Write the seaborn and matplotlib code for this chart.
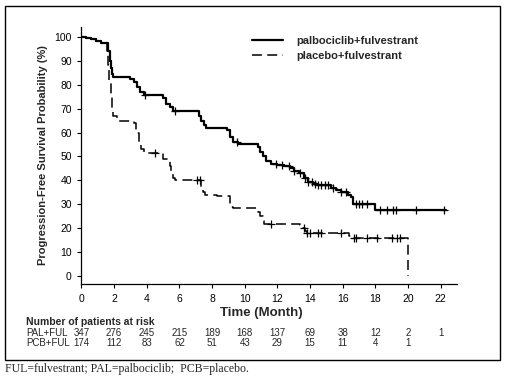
import numpy as np
import pandas as pd
import matplotlib
matplotlib.use("Agg")
import matplotlib.pyplot as plt
import matplotlib.transforms as mtransforms
from matplotlib.patches import Rectangle
from matplotlib.lines import Line2D
import seaborn as sns

# Kaplan-Meier step curves (time in months, PFS %)
pal_time = [0, 0.3, 0.6, 0.9, 1.2, 1.65, 1.72, 1.8, 1.88, 1.95, 3.0, 3.2, 3.4, 3.6, 3.8,
            5.0, 5.2, 5.4, 5.6, 7.2, 7.35, 7.5, 7.65, 8.9, 9.1, 9.3, 9.6, 10.8, 10.95,
            11.1, 11.3, 11.6, 12.0, 12.4, 12.8, 13.0, 13.3, 13.6, 13.9, 14.2, 14.5,
            15.3, 15.6, 15.9, 16.3, 16.5, 16.6, 18.0, 22.3]
pal_surv = [100, 99.5, 99, 98, 97.5, 94, 90, 87, 84.5, 83, 82.5, 81, 79, 77, 75.5,
            74.5, 72, 70.5, 69, 67, 65, 63, 62, 61, 58, 56, 55, 54, 52,
            50, 48, 47, 46.5, 46, 45, 44, 43, 41, 39.5, 38.5, 38,
            37, 36, 35, 34, 33, 30, 27.5, 27.5]
pcb_time = [0, 0.3, 0.6, 0.9, 1.2, 1.55, 1.62, 1.7, 1.78, 1.85, 1.95, 2.2, 3.2, 3.35,
            3.5, 3.65, 3.8, 5.0, 5.4, 5.5, 5.6, 5.7, 7.3, 7.45, 7.55, 8.3, 9.1, 9.25,
            10.8, 10.95, 11.1, 11.2, 13.4, 13.55, 13.7, 13.8, 16.4, 16.6, 20.0, 20.0]
pcb_surv = [100, 99.5, 99, 98, 97.5, 93, 88, 81, 75, 70, 67, 65, 64, 60,
            56, 53, 51.5, 49, 46, 43, 41, 40, 37, 35, 34, 33.5, 29, 28.5,
            27, 25, 23, 22, 21.5, 20, 19, 18, 17, 16, 16, 0]

# censoring times
pal_cens = [3.9, 5.7, 9.5, 11.9, 12.3, 12.7, 13.0, 13.4, 13.7, 13.9, 14.1, 14.3, 14.5,
            14.7, 14.9, 15.1, 15.4, 15.9, 16.2, 16.8, 17.0, 17.2, 17.5, 18.3, 18.7,
            19.1, 19.25, 20.5, 22.2]
pcb_cens = [4.5, 7.1, 7.25, 11.6, 13.6, 13.8, 14.0, 14.5, 14.7, 15.9, 16.7, 16.8,
            17.5, 18.1, 19.0, 19.3, 19.5]

# number at risk
risk_times = [0, 2, 4, 6, 8, 10, 12, 14, 16, 18, 20, 22]
pal_risk = [347, 276, 245, 215, 189, 168, 137, 69, 38, 12, 2, 1]
pcb_risk = [174, 112, 83, 62, 51, 43, 29, 15, 11, 4, 1]

arm_labels = ["palbociclib+fulvestrant", "placebo+fulvestrant"]
risk_labels = ["PAL+FUL", "PCB+FUL"]

dash = (0, (6.5, 3.5))


def step_value(times, surv, t):
    idx = np.searchsorted(times, t, side="right") - 1
    return np.asarray(surv)[idx]


sns.set_style("ticks")
plt.rcParams["font.family"] = ["Liberation Sans", "DejaVu Sans"]

fig = plt.figure(figsize=(5.08, 3.81), dpi=100)
ax = fig.add_axes([0.1604, 0.2546, 0.7392, 0.6744])

pal_df = pd.DataFrame({"time": pal_time, "surv": pal_surv})
pcb_df = pd.DataFrame({"time": pcb_time, "surv": pcb_surv})
sns.lineplot(data=pal_df, x="time", y="surv", ax=ax, color="black", linewidth=1.6,
             drawstyle="steps-post", estimator=None, sort=False)
sns.lineplot(data=pcb_df, x="time", y="surv", ax=ax, color="black", linewidth=1.1,
             drawstyle="steps-post", estimator=None, sort=False, dashes=False,
             linestyle=dash)

pal_c = pd.DataFrame({"time": pal_cens,
                      "surv": step_value(pal_time, pal_surv, pal_cens)})
pcb_c = pd.DataFrame({"time": pcb_cens,
                      "surv": step_value(pcb_time, pcb_surv, pcb_cens)})
for d in (pal_c, pcb_c):
    sns.scatterplot(data=d, x="time", y="surv", ax=ax, marker="+", color="black",
                    s=30, linewidth=0.9, zorder=3)

ax.set_xlim(0, 23)
ax.set_ylim(-3.2, 104)
ax.set_xticks(risk_times)
ax.set_yticks(np.arange(0, 101, 10))
ax.tick_params(axis="both", labelsize=7.5, length=3, width=0.8, pad=4, colors="black")
sns.despine(ax=ax)
for s in ("left", "bottom"):
    ax.spines[s].set_linewidth(0.9)
    ax.spines[s].set_color("black")

ax.set_xlabel("")
ax.set_ylabel("Progression-Free Survival Probability (%)", fontsize=8,
              fontweight="bold")
ax.yaxis.set_label_coords(-0.089, 0.5)

handles = [Line2D([], [], color="black", linewidth=1.6),
           Line2D([], [], color="black", linewidth=1.1, linestyle=dash)]
ax.legend(handles, arm_labels, loc="upper left", bbox_to_anchor=(0.496, 0.906),
          bbox_transform=fig.transFigure, frameon=False, borderaxespad=0,
          borderpad=0, handlelength=2.8, handletextpad=1.2, labelspacing=0.45,
          prop={"size": 8, "weight": "bold"})

# x label and at-risk table below the axes
blend = mtransforms.blended_transform_factory(ax.transData, fig.transFigure)
ax.text(11, 1 - 313 / 381, "Time (Month)", transform=blend, ha="center",
        va="center", fontsize=9.5, fontweight="bold")
fig.text(26 / 508, 1 - 322 / 381, "Number of patients at risk", ha="left",
         va="center", fontsize=7.5, fontweight="bold")
for row, (lab, vals) in enumerate(zip(risk_labels, [pal_risk, pcb_risk])):
    y = 1 - (333 + 10.5 * row) / 381
    fig.text(26 / 508, y, lab, ha="left", va="center", fontsize=7)
    for t, n in zip(risk_times, vals):
        ax.text(t, y, str(n), transform=blend, ha="center", va="center", fontsize=7)

# frame around the figure and footnote
fig.patches.append(Rectangle((5 / 508, 1 - 360 / 381), 495 / 508, 354 / 381,
                             transform=fig.transFigure, fill=False,
                             edgecolor="black", linewidth=1.0))
fig.text(5 / 508, 1 - 369 / 381, "FUL=fulvestrant; PAL=palbociclib;  PCB=placebo.",
         ha="left", va="center", fontsize=8.5, family="Liberation Serif")

fig.savefig("out.png", dpi=100)
